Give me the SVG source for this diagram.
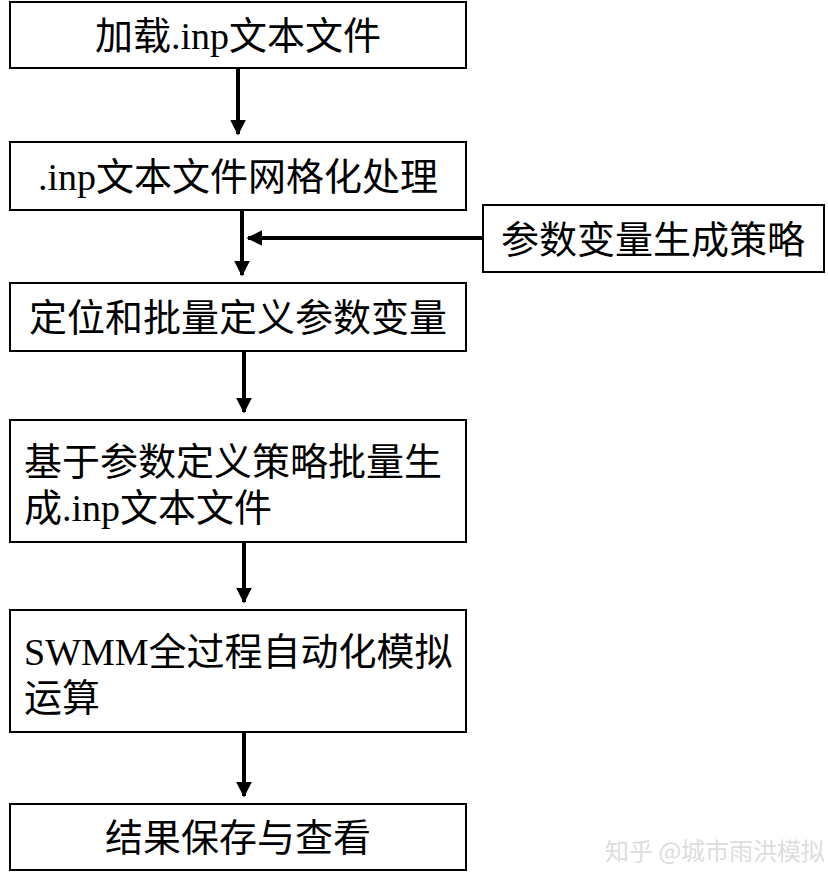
<svg xmlns="http://www.w3.org/2000/svg" width="828" height="885" viewBox="0 0 828 885">
<defs>
<style>
.box{fill:#fff;stroke:#000;stroke-width:2}
.t{font-family:"Liberation Serif","Noto Sans CJK SC",serif;font-size:38px;fill:#000}
.c{text-anchor:middle}
.ln{stroke:#000;stroke-width:4;fill:none}
</style>
<marker id="ah" viewBox="0 0 10 10" refX="9" refY="5" markerWidth="4" markerHeight="4" orient="auto" markerUnits="strokeWidth"><path d="M0,0L10,5L0,10z" fill="#000"/></marker>
</defs>
<rect width="828" height="885" fill="#fff"/>
<g id="n1"><rect class="box" x="10" y="2" width="456" height="66"/><text class="t c" x="238" y="49">加载.inp文本文件</text></g>
<g id="n2"><rect class="box" x="10" y="142" width="456" height="68"/><text class="t c" x="238" y="190">.inp文本文件网格化处理</text></g>
<g id="side"><rect class="box" x="483" y="205" width="341" height="67"/><text class="t c" x="653" y="253">参数变量生成策略</text></g>
<g id="n3"><rect class="box" x="10" y="283" width="456" height="68"/><text class="t c" x="238" y="331">定位和批量定义参数变量</text></g>
<g id="n4"><rect class="box" x="10" y="420" width="456" height="122"/><text class="t" x="24" y="475">基于参数定义策略批量生</text><text class="t" x="24" y="521">成.inp文本文件</text></g>
<g id="n5"><rect class="box" x="10" y="610" width="456" height="122"/><text class="t" x="24" y="665">SWMM全过程自动化模拟</text><text class="t" x="24" y="711">运算</text></g>
<g id="n6"><rect class="box" x="10" y="804" width="456" height="66"/><text class="t c" x="238" y="851">结果保存与查看</text></g>
<g id="connectors">
<line class="ln" x1="238" y1="68" x2="238" y2="134" marker-end="url(#ah)"/>
<line class="ln" x1="242" y1="210" x2="242" y2="275" marker-end="url(#ah)"/>
<line class="ln" x1="483" y1="238" x2="248" y2="238" marker-end="url(#ah)"/>
<line class="ln" x1="244" y1="351" x2="244" y2="412" marker-end="url(#ah)"/>
<line class="ln" x1="244" y1="542" x2="244" y2="602" marker-end="url(#ah)"/>
<line class="ln" x1="244" y1="732" x2="244" y2="796" marker-end="url(#ah)"/>
</g>
<text x="605" y="860" font-family="Noto Sans CJK SC,sans-serif" font-size="24" fill="#ddd">知乎 @城市雨洪模拟</text>
</svg>
